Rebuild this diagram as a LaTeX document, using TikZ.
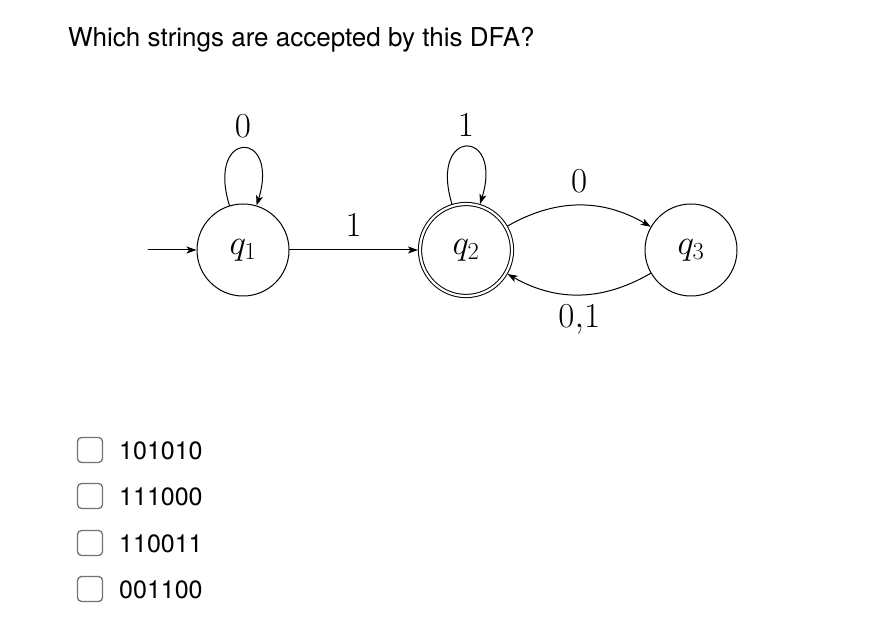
\RequirePackage{fix-cm}
\documentclass[tikz,border=0pt]{standalone}
\usepackage[no-math]{fontspec}
\usetikzlibrary{arrows.meta}
\newfontfamily\helv{TeX Gyre Heros}
\begin{document}
\begin{tikzpicture}[x=1pt, y=1pt, line join=round, line cap=round, >={Stealth[length=10pt, width=7pt, inset=2.5pt]},
	dfastate/.style={draw, circle, line width=1pt, minimum size=92pt, inner sep=0pt, font=\fontsize{35}{42}\selectfont},
	final/.style={double, double distance=2.2pt, outer sep=2pt},
	trans/.style={->, line width=1pt},
	elabel/.style={inner sep=0pt, font=\fontsize{35}{42}\selectfont},
	question/.style={font=\helv\fontsize{26}{31}\selectfont, anchor=base west, inner sep=0pt},
	chkbox/.style={draw=black!55, line width=1.3pt, rounded corners=4pt, minimum size=25pt, inner sep=0pt},
	choice/.style={font=\helv\fontsize{25}{30}\selectfont, anchor=base west, inner sep=0pt}]
	\def\ys{-250} % hang cac trang thai
	\def\L{80} % do cao vong lap
	\useasboundingbox (0,0) rectangle (880,-636);
	\node[question] (title) at (68,-47) {Which strings are accepted by this DFA?};
	% DFA
	\node[dfastate] (q1) at (243,\ys) {$q_1$};
	\node[dfastate, final] (q2) at (466,\ys) {$q_2$};
	\node[dfastate] (q3) at (691,\ys) {$q_3$};
	\coordinate (init) at (148,\ys);
	\draw[trans] (init) -- (q1);
	\draw[trans] (q1.107) .. controls +(107:\L) and +(73:\L) .. node[elabel, above=10pt] {$0$} (q1.73);
	\draw[trans] (q1) -- node[elabel, above=13pt] {$1$} (q2);
	\draw[trans] (q2.107) .. controls +(107:\L) and +(73:\L) .. node[elabel, above=10pt] {$1$} (q2.73);
	\draw[trans] (q2) to[bend left=30] node[elabel, above=12pt] {$0$} (q3);
	\draw[trans] (q3) to[bend left=30] node[elabel, below=10pt] {$0{,}1$} (q2);
	% cac lua chon
	\foreach \i/\s/\yb in {1/101010/459, 2/111000/505, 3/110011/552, 4/001100/598}{
		\node[chkbox] (box\i) at (90,{9-\yb}) {};
		\node[choice] (opt\i) at (119,-\yb) {\s};
	}
\end{tikzpicture}
\end{document}
